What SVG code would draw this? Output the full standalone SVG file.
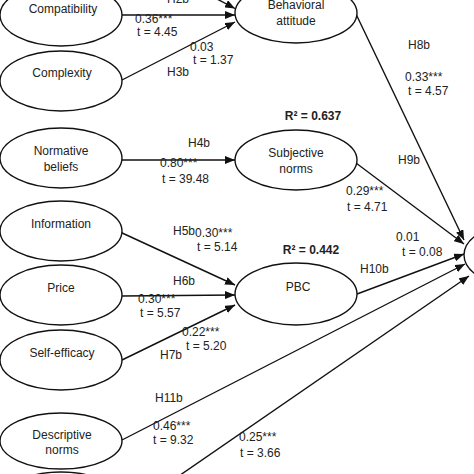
<svg xmlns="http://www.w3.org/2000/svg" width="474" height="474" viewBox="0 0 474 474">
<style>
.n{fill:#fff;stroke:#111;stroke-width:1.4}
.t{font-family:"Liberation Sans",Arial,sans-serif;font-size:12px;fill:#222}
.c{text-anchor:middle}
.b{font-weight:bold}
.e line{stroke:#111;stroke-width:1.4;marker-end:url(#ah)}
</style>
<defs>
<marker id="ah" viewBox="0 0 10 8" refX="10" refY="4" markerWidth="10" markerHeight="8" markerUnits="userSpaceOnUse" orient="auto">
<path d="M0,0 L10,4 L0,8 Z" fill="#111"/>
</marker>
</defs>
<rect width="474" height="474" fill="#fff"/>
<g id="connectors" class="e">
<line x1="200" y1="-10" x2="235" y2="8.5"/>
<line x1="122" y1="15" x2="235" y2="15"/>
<line x1="122" y1="80" x2="235" y2="22"/>
<line x1="356" y1="14" x2="464" y2="240"/>
<line x1="122" y1="160" x2="235" y2="160"/>
<line x1="356" y1="163" x2="464" y2="244"/>
<line x1="120" y1="232" x2="235" y2="285"/>
<line x1="122" y1="296" x2="235" y2="295"/>
<line x1="122" y1="360" x2="235" y2="305"/>
<line x1="357" y1="294" x2="464" y2="254"/>
<line x1="122" y1="440" x2="465" y2="264"/>
<line x1="144" y1="500" x2="469" y2="276"/>
</g>
<g id="compatibility"><ellipse class="n" cx="61" cy="15" rx="61" ry="31"/><text class="t c" x="63" y="13">Compatibility</text></g>
<g id="complexity"><ellipse class="n" cx="61" cy="81" rx="61" ry="30"/><text class="t c" x="62" y="77">Complexity</text></g>
<g id="normative-beliefs"><ellipse class="n" cx="61" cy="158" rx="61" ry="30"/><text class="t c" x="61" y="155">Normative</text><text class="t c" x="61" y="171">beliefs</text></g>
<g id="information"><ellipse class="n" cx="61" cy="231" rx="61" ry="30"/><text class="t c" x="61" y="228">Information</text></g>
<g id="price"><ellipse class="n" cx="61" cy="295" rx="61" ry="30"/><text class="t c" x="61" y="292">Price</text></g>
<g id="self-efficacy"><ellipse class="n" cx="61" cy="360" rx="61" ry="30"/><text class="t c" x="62" y="357">Self-efficacy</text></g>
<g id="descriptive-norms"><ellipse class="n" cx="61" cy="441" rx="61" ry="28"/><text class="t c" x="62" y="439">Descriptive</text><text class="t c" x="62" y="454">norms</text></g>
<g id="bottom-node"><ellipse class="n" cx="61" cy="503" rx="61" ry="31"/></g>
<g id="behavioral-attitude"><ellipse class="n" cx="296" cy="13" rx="61" ry="30"/><text class="t c" x="296" y="9">Behavioral</text><text class="t c" x="296" y="25">attitude</text></g>
<g id="subjective-norms"><ellipse class="n" cx="296" cy="160" rx="61" ry="30"/><text class="t c" x="296" y="157">Subjective</text><text class="t c" x="296" y="173">norms</text></g>
<g id="pbc"><ellipse class="n" cx="296" cy="294" rx="61" ry="31"/><text class="t c" x="298" y="291">PBC</text></g>
<g id="intention"><ellipse class="n" cx="526" cy="255" rx="62" ry="33"/></g>
<g id="labels">
<text class="t" x="167" y="3">H2b</text>
<text class="t" x="135" y="23">0.36***</text>
<text class="t" x="137" y="36">t = 4.45</text>
<text class="t" x="190" y="51">0.03</text>
<text class="t" x="193" y="64">t = 1.37</text>
<text class="t" x="167" y="76">H3b</text>
<text class="t" x="408" y="49">H8b</text>
<text class="t" x="405" y="81">0.33***</text>
<text class="t" x="408" y="95">t = 4.57</text>
<text class="t c b" x="313" y="120">R² = 0.637</text>
<text class="t" x="188" y="147">H4b</text>
<text class="t" x="160" y="167">0.80***</text>
<text class="t" x="162" y="183">t = 39.48</text>
<text class="t" x="398" y="164">H9b</text>
<text class="t" x="346" y="195">0.29***</text>
<text class="t" x="347" y="211">t = 4.71</text>
<text class="t" x="173" y="235">H5b</text>
<text class="t" x="195" y="237">0.30***</text>
<text class="t" x="197" y="251">t = 5.14</text>
<text class="t c b" x="311" y="254">R² = 0.442</text>
<text class="t" x="396" y="241">0.01</text>
<text class="t" x="402" y="256">t = 0.08</text>
<text class="t" x="360" y="273">H10b</text>
<text class="t" x="173" y="285">H6b</text>
<text class="t" x="138" y="303">0.30***</text>
<text class="t" x="140" y="317">t = 5.57</text>
<text class="t" x="182" y="336">0.22***</text>
<text class="t" x="186" y="350">t = 5.20</text>
<text class="t" x="160" y="359">H7b</text>
<text class="t" x="155" y="402">H11b</text>
<text class="t" x="153" y="430">0.46***</text>
<text class="t" x="153" y="444">t = 9.32</text>
<text class="t" x="239" y="441">0.25***</text>
<text class="t" x="240" y="457">t = 3.66</text>
</g>
</svg>
